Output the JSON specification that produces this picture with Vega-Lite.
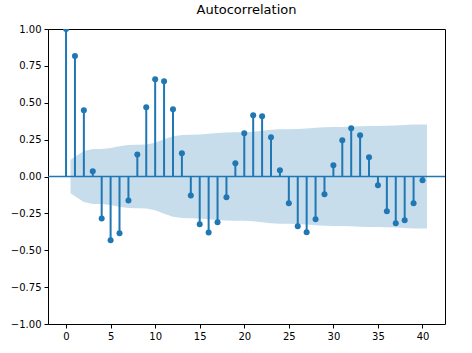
{
  "$schema": "https://vega.github.io/schema/vega-lite/v6.json",
  "autosize": "none",
  "width": 397,
  "height": 295,
  "padding": {"left": 48, "top": 29, "right": 27, "bottom": 29},
  "background": "white",
  "title": {"text": "Autocorrelation", "font": "DejaVu Sans", "fontSize": 13, "fontWeight": "normal", "color": "#000000", "offset": 7},
  "config": {
    "view": {"stroke": "#000000", "strokeWidth": 1},
    "axis": {"grid": false, "domain": false, "labelFont": "DejaVu Sans", "labelFontSize": 10, "labelColor": "#000000", "tickColor": "#000000", "tickSize": 4, "labelPadding": 3, "title": null, "labelOverlap": false, "labelBound": false, "labelFlush": false}
  },
  "datasets": {
    "acf": [
      {"lag": 0, "acf": 1.0, "base": 0}, {"lag": 1, "acf": 0.817, "base": 0}, {"lag": 2, "acf": 0.449, "base": 0}, {"lag": 3, "acf": 0.035, "base": 0},
      {"lag": 4, "acf": -0.284, "base": 0}, {"lag": 5, "acf": -0.433, "base": 0}, {"lag": 6, "acf": -0.385, "base": 0}, {"lag": 7, "acf": -0.162, "base": 0},
      {"lag": 8, "acf": 0.15, "base": 0}, {"lag": 9, "acf": 0.469, "base": 0}, {"lag": 10, "acf": 0.659, "base": 0}, {"lag": 11, "acf": 0.645, "base": 0},
      {"lag": 12, "acf": 0.456, "base": 0}, {"lag": 13, "acf": 0.157, "base": 0}, {"lag": 14, "acf": -0.128, "base": 0}, {"lag": 15, "acf": -0.324, "base": 0},
      {"lag": 16, "acf": -0.379, "base": 0}, {"lag": 17, "acf": -0.311, "base": 0}, {"lag": 18, "acf": -0.141, "base": 0}, {"lag": 19, "acf": 0.089, "base": 0},
      {"lag": 20, "acf": 0.293, "base": 0}, {"lag": 21, "acf": 0.415, "base": 0}, {"lag": 22, "acf": 0.408, "base": 0}, {"lag": 23, "acf": 0.266, "base": 0},
      {"lag": 24, "acf": 0.042, "base": 0}, {"lag": 25, "acf": -0.182, "base": 0}, {"lag": 26, "acf": -0.338, "base": 0}, {"lag": 27, "acf": -0.378, "base": 0},
      {"lag": 28, "acf": -0.29, "base": 0}, {"lag": 29, "acf": -0.121, "base": 0}, {"lag": 30, "acf": 0.076, "base": 0}, {"lag": 31, "acf": 0.245, "base": 0},
      {"lag": 32, "acf": 0.327, "base": 0}, {"lag": 33, "acf": 0.279, "base": 0}, {"lag": 34, "acf": 0.13, "base": 0}, {"lag": 35, "acf": -0.06, "base": 0},
      {"lag": 36, "acf": -0.236, "base": 0}, {"lag": 37, "acf": -0.317, "base": 0}, {"lag": 38, "acf": -0.297, "base": 0}, {"lag": 39, "acf": -0.182, "base": 0},
      {"lag": 40, "acf": -0.026, "base": 0}
    ],
    "band": [
      {"lag": 0.5, "lo": -0.113, "hi": 0.113}, {"lag": 2, "lo": -0.173, "hi": 0.173}, {"lag": 3, "lo": -0.187, "hi": 0.187},
      {"lag": 4, "lo": -0.187, "hi": 0.187}, {"lag": 5, "lo": -0.193, "hi": 0.193}, {"lag": 6, "lo": -0.205, "hi": 0.205},
      {"lag": 7, "lo": -0.214, "hi": 0.214}, {"lag": 8, "lo": -0.215, "hi": 0.215}, {"lag": 9, "lo": -0.217, "hi": 0.217},
      {"lag": 10, "lo": -0.229, "hi": 0.229}, {"lag": 11, "lo": -0.252, "hi": 0.252}, {"lag": 12, "lo": -0.273, "hi": 0.273},
      {"lag": 13, "lo": -0.282, "hi": 0.282}, {"lag": 14, "lo": -0.283, "hi": 0.283}, {"lag": 15, "lo": -0.284, "hi": 0.284},
      {"lag": 16, "lo": -0.289, "hi": 0.289}, {"lag": 17, "lo": -0.295, "hi": 0.295}, {"lag": 18, "lo": -0.299, "hi": 0.299},
      {"lag": 19, "lo": -0.3, "hi": 0.3}, {"lag": 20, "lo": -0.3, "hi": 0.3}, {"lag": 21, "lo": -0.304, "hi": 0.304},
      {"lag": 22, "lo": -0.311, "hi": 0.311}, {"lag": 23, "lo": -0.317, "hi": 0.317}, {"lag": 24, "lo": -0.32, "hi": 0.32},
      {"lag": 25, "lo": -0.32, "hi": 0.32}, {"lag": 26, "lo": -0.322, "hi": 0.322}, {"lag": 27, "lo": -0.326, "hi": 0.326},
      {"lag": 28, "lo": -0.331, "hi": 0.331}, {"lag": 29, "lo": -0.334, "hi": 0.334}, {"lag": 30, "lo": -0.335, "hi": 0.335},
      {"lag": 31, "lo": -0.335, "hi": 0.335}, {"lag": 32, "lo": -0.337, "hi": 0.337}, {"lag": 33, "lo": -0.34, "hi": 0.34},
      {"lag": 34, "lo": -0.343, "hi": 0.343}, {"lag": 35, "lo": -0.343, "hi": 0.343}, {"lag": 36, "lo": -0.344, "hi": 0.344},
      {"lag": 37, "lo": -0.346, "hi": 0.346}, {"lag": 38, "lo": -0.349, "hi": 0.349}, {"lag": 39, "lo": -0.352, "hi": 0.352},
      {"lag": 40.5, "lo": -0.353, "hi": 0.353}
    ],
    "zero": [{"y": 0}]
  },
  "layer": [
    {
      "data": {"name": "band"},
      "mark": {"type": "area", "color": "#1f77b4", "opacity": 0.25, "clip": true},
      "encoding": {
        "x": {"field": "lag", "type": "quantitative", "scale": {"domain": [-2.025, 42.525], "nice": false, "zero": false},
              "axis": {"values": [0, 5, 10, 15, 20, 25, 30, 35, 40], "format": "d"}},
        "y": {"field": "lo", "type": "quantitative", "scale": {"domain": [-1, 1], "nice": false},
              "axis": {"values": [-1, -0.75, -0.5, -0.25, 0, 0.25, 0.5, 0.75, 1], "format": ".2f", "labelOverlap": false}},
        "y2": {"field": "hi"}
      }
    },
    {
      "data": {"name": "zero"},
      "mark": {"type": "rule", "color": "#1f77b4", "strokeWidth": 1.5},
      "encoding": {"y": {"field": "y", "type": "quantitative",
              "axis": {"values": [-1, -0.75, -0.5, -0.25, 0, 0.25, 0.5, 0.75, 1], "format": ".2f", "labelOverlap": false}}}
    },
    {
      "data": {"name": "acf"},
      "mark": {"type": "rule", "color": "#1f77b4", "strokeWidth": 2, "clip": true},
      "encoding": {
        "x": {"field": "lag", "type": "quantitative",
              "axis": {"values": [0, 5, 10, 15, 20, 25, 30, 35, 40], "format": "d"}},
        "y": {"field": "acf", "type": "quantitative",
              "axis": {"values": [-1, -0.75, -0.5, -0.25, 0, 0.25, 0.5, 0.75, 1], "format": ".2f", "labelOverlap": false}},
        "y2": {"field": "base"}
      }
    },
    {
      "data": {"name": "acf"},
      "mark": {"type": "point", "filled": true, "shape": "circle", "color": "#1f77b4", "size": 36, "opacity": 1, "clip": true},
      "encoding": {
        "x": {"field": "lag", "type": "quantitative",
              "axis": {"values": [0, 5, 10, 15, 20, 25, 30, 35, 40], "format": "d"}},
        "y": {"field": "acf", "type": "quantitative",
              "axis": {"values": [-1, -0.75, -0.5, -0.25, 0, 0.25, 0.5, 0.75, 1], "format": ".2f", "labelOverlap": false}}
      }
    }
  ]
}
